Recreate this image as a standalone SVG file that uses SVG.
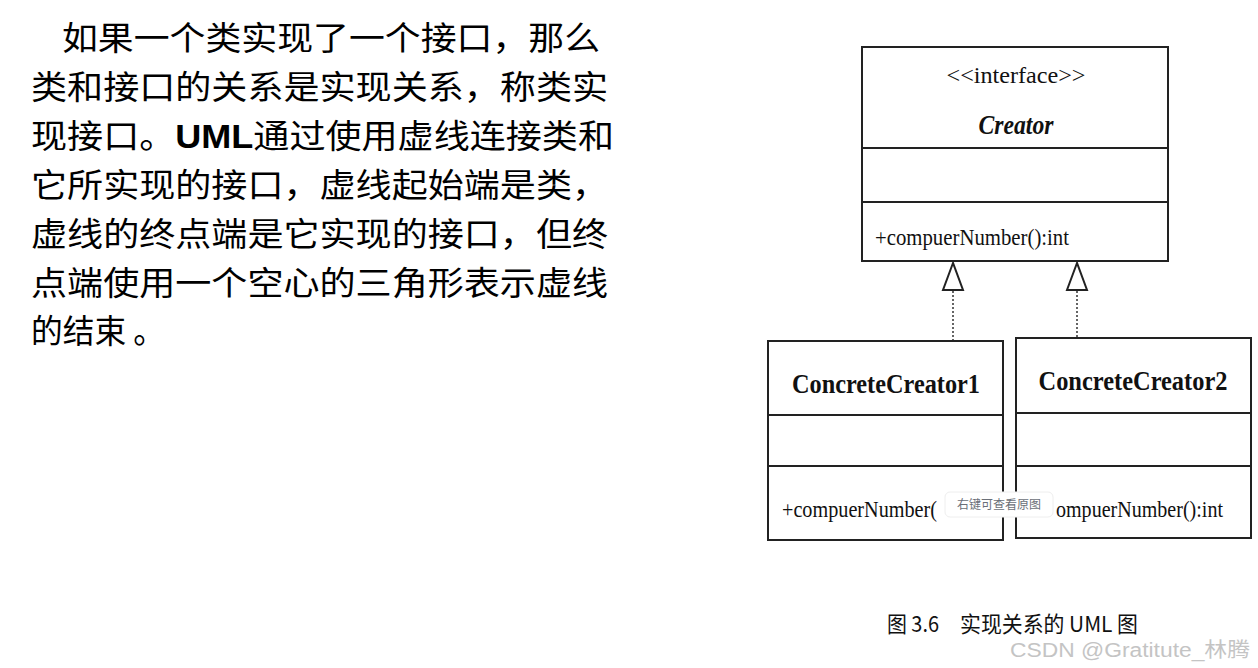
<svg xmlns="http://www.w3.org/2000/svg" width="1258" height="668" viewBox="0 0 1258 668">
<style>
.para{font-family:"Noto Sans CJK SC","Liberation Sans",sans-serif;font-size:33px;fill:#000}
.box{fill:#fff;stroke:#222;stroke-width:2}
.div{stroke:#222;stroke-width:2}
.uml{font-family:"Liberation Serif",serif;font-size:24px;fill:#111}
.umlb{font-family:"Liberation Serif",serif;font-size:27px;font-weight:bold;fill:#111}
.dash{stroke:#333;stroke-width:1.5;stroke-dasharray:2 2;fill:none}
.tri{fill:#fff;stroke:#222;stroke-width:2;stroke-linejoin:miter}
</style>
<rect width="1258" height="668" fill="#fff"/>
<g id="paragraph">
<text class="para" x="62" y="50" textLength="538" lengthAdjust="spacingAndGlyphs">如果一个类实现了一个接口，那么</text>
<text class="para" x="31" y="99" textLength="577" lengthAdjust="spacingAndGlyphs">类和接口的关系是实现关系，称类实</text>
<text class="para" x="31" y="148" textLength="583" lengthAdjust="spacingAndGlyphs">现接口。<tspan font-family="Liberation Sans, sans-serif" font-weight="bold">UML</tspan>通过使用虚线连接类和</text>
<text class="para" x="31" y="197" textLength="577" lengthAdjust="spacingAndGlyphs">它所实现的接口，虚线起始端是类，</text>
<text class="para" x="31" y="246" textLength="577" lengthAdjust="spacingAndGlyphs">虚线的终点端是它实现的接口，但终</text>
<text class="para" x="31" y="295" textLength="577" lengthAdjust="spacingAndGlyphs">点端使用一个空心的三角形表示虚线</text>
<text class="para" x="31" y="343" textLength="134" lengthAdjust="spacingAndGlyphs">的结束 。</text>
</g>
<g id="connectors">
<line class="dash" x1="953" y1="291" x2="953" y2="341"/>
<polygon class="tri" points="953,263 943,290 963,290"/>
<line class="dash" x1="1077" y1="291" x2="1077" y2="338"/>
<polygon class="tri" points="1077,263 1067,290 1087,290"/>
</g>
<g id="creator">
<rect class="box" x="862" y="47" width="306" height="214"/>
<line class="div" x1="862" y1="148" x2="1168" y2="148"/>
<line class="div" x1="862" y1="202" x2="1168" y2="202"/>
<text class="uml" x="1016" y="83" text-anchor="middle" textLength="139" lengthAdjust="spacingAndGlyphs">&lt;&lt;interface&gt;&gt;</text>
<text class="umlb" x="1016" y="134" text-anchor="middle" font-style="italic" textLength="75" lengthAdjust="spacingAndGlyphs">Creator</text>
<text class="uml" x="875" y="245" textLength="194" lengthAdjust="spacingAndGlyphs">+compuerNumber():int</text>
</g>
<g id="concrete1">
<rect class="box" x="768" y="341" width="235" height="199"/>
<line class="div" x1="768" y1="415" x2="1003" y2="415"/>
<line class="div" x1="768" y1="466" x2="1003" y2="466"/>
<text class="umlb" x="886" y="393" text-anchor="middle" textLength="188" lengthAdjust="spacingAndGlyphs">ConcreteCreator1</text>
<text class="uml" x="782" y="517" font-size="22" textLength="155" lengthAdjust="spacingAndGlyphs">+compuerNumber(</text>
</g>
<g id="concrete2">
<rect class="box" x="1016" y="338" width="235" height="200"/>
<line class="div" x1="1016" y1="413" x2="1251" y2="413"/>
<line class="div" x1="1016" y1="466" x2="1251" y2="466"/>
<text class="umlb" x="1133" y="390" text-anchor="middle" textLength="189" lengthAdjust="spacingAndGlyphs">ConcreteCreator2</text>
<text class="uml" x="1056" y="517" textLength="167" lengthAdjust="spacingAndGlyphs">ompuerNumber():int</text>
</g>
<g id="tooltip">
<rect x="945" y="492" width="108" height="25" rx="5" fill="#fff" stroke="#eee" stroke-width="1"/>
<text x="999" y="509" text-anchor="middle" font-family="Noto Sans CJK SC, sans-serif" font-size="12" fill="#6b6f78">右键可查看原图</text>
</g>
<g id="caption" font-family="Noto Sans CJK SC, sans-serif" font-size="22" fill="#111">
<text x="887" y="632" textLength="52" lengthAdjust="spacingAndGlyphs">图 3.6</text>
<text x="960" y="632" textLength="178" lengthAdjust="spacingAndGlyphs">实现关系的 UML 图</text>
</g>
<g id="watermark">
<text x="1010" y="657" font-family="Liberation Sans, Noto Sans CJK SC, sans-serif" font-size="20" fill="#c4c4c4" textLength="240" lengthAdjust="spacingAndGlyphs">CSDN @Gratitute_林腾</text>
</g>
</svg>
